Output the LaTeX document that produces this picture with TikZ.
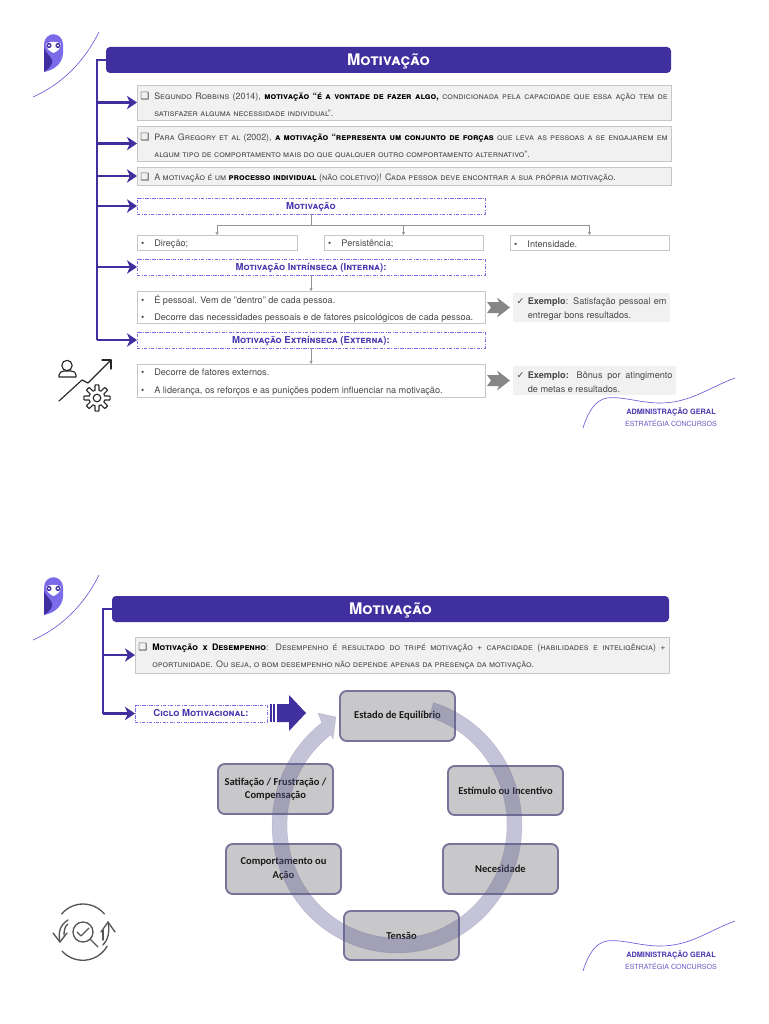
\documentclass[tikz,border=0pt]{standalone}
\usepackage{fontspec}
\setmainfont{TeX Gyre Heros}
\newfontfamily\djv{DejaVu Sans}
\newfontfamily\crl{Carlito}
\usetikzlibrary{arrows.meta}
\definecolor{deep}{HTML}{3F2F9F}
\definecolor{midp}{HTML}{4A3AB0}
\definecolor{liteP}{HTML}{7B6BE8}
\definecolor{ink}{HTML}{484848}
\definecolor{panel}{HTML}{F1F1F1}
\definecolor{edgeg}{HTML}{C6C6C6}
\definecolor{cyc}{HTML}{C8C8CA}
\definecolor{cycb}{HTML}{77749A}
\definecolor{ringc}{HTML}{5F5A90}
\definecolor{icong}{HTML}{555555}
\newcommand\ckb{\hbox to 10.5pt{{\djv\fontsize{7.5}{7.5}\selectfont ❑}\hfil}}
\newcommand\bodyl[1]{\hbox to \hsize{\hskip 3pt\hbox to 10pt{•\hfil}#1\hfil}}
\newcommand\jus[1]{\hbox to \hsize{#1}}
\newcommand\lft[1]{\hbox to \hsize{\hskip 10.5pt #1\hfil}}
\newcommand\scb[1]{{\color{black}\bfseries\scshape #1}}
\newcommand\ckm{\hbox to 8.5pt{{\djv\fontsize{7}{7}\selectfont ✓}\hfil}}
\newcommand\tv{\vskip 2.5pt}
\tikzset{
  wh/.style 2 args={minimum width=#1*0.75pt,minimum height=#2*0.75pt,inner sep=0pt,outer sep=0pt},
  titlebar/.style={fill=deep,rounded corners=3pt,text=white,text height=8pt,text depth=0pt,font=\fontsize{12}{12}\selectfont\bfseries\scshape},
  panelbox/.style={fill=panel,draw=edgeg,line width=0.65pt,text=ink,font=\fontsize{6.65}{6.65}\selectfont\scshape},
  dashbox/.style={fill=white,draw=liteP,line width=0.4pt,dash pattern=on 2.5pt off 1pt on 0.7pt off 1pt,text=midp,text height=5pt,text depth=0pt,font=\fontsize{7.2}{7.2}\selectfont\bfseries\scshape},
  itembox/.style={fill=white,draw=edgeg,line width=0.65pt,text=ink,font=\fontsize{6.85}{6.85}\selectfont},
  exbox/.style={fill=panel,text=ink,font=\fontsize{6.85}{6.85}\selectfont},
  trunk/.style={draw=deep,line width=1.9pt},
  trunkarr/.style={draw=deep,line width=1.9pt,-{Stealth[length=7.5pt,width=10pt,inset=2.2pt]}},
  treeline/.style={draw=gray!85,line width=0.45pt},
  treearr/.style={draw=gray!85,line width=0.45pt,-{Stealth[length=2.5pt,width=2.5pt]}},
  blockarr/.style={fill=gray!95},
  cycbox/.style={fill=cyc,draw=cycb,line width=1.4pt,rounded corners=5pt,text=black!90,align=center,font=\crl\fontsize{7.9}{10}\selectfont\bfseries},
  ring/.style={fill=ringc,fill opacity=0.36,draw=ringc,draw opacity=0.2,line width=0.4pt},
  owlL/.style={fill=liteP},
  owlD/.style={fill=deep},
  foot1/.style={text=midp,font=\fontsize{5.5}{5.5}\selectfont\bfseries},
  foot2/.style={text=liteP!85!black,font=\fontsize{5.3}{5.3}\selectfont},
  swoosh/.style={draw=liteP!80!deep,line width=0.5pt},
  icon/.style={draw=black!85,line width=0.85pt,line join=round,line cap=round},
  iconb/.style={draw=icong,line width=1pt,line join=round,line cap=round},
}
\begin{document}
\begin{tikzpicture}[x=0.75pt,y=-0.75pt]
\useasboundingbox (0,0) rectangle (768,1024);
% ---------- first page ----------
\begin{scope}
\fill[owlL] (44,44) .. controls (45,31) and (62,31) .. (63,44) -- (63,54) .. controls (62,64) and (54,70) .. (44,72) -- cycle;
\fill[white] (46,44) .. controls (49,41) and (58,41) .. (61,44) .. controls (61,49) and (56,52) .. (53.5,53) .. controls (51,52) and (46,49) .. (46,44) -- cycle;
\fill[owlD] (44,48) .. controls (47,54) and (50,56) .. (52,60) .. controls (53,64) and (50,68) .. (44,72) -- cycle;
\fill[deep] (49,45.5) circle (2.6) (58,45.5) circle (2.6);
\fill[white] (49,45.5) circle (1.2) (58,45.5) circle (1.2);
\draw[swoosh] (99,32) .. controls (84,62) and (62,84) .. (33,97);
\end{scope}
\node[wh={565}{26},titlebar] (bar1) at (388.5,60) {Motivação};
\node[wh={534}{35},panelbox] (p1) at (404,102.5) {\vbox{\hsize=395.5pt\baselineskip=12.75pt\tv
  \jus{\ckb Segundo Robbins (2014), \scb{motivação “é a vontade de fazer algo,} condicionada pela capacidade que essa ação tem de}
  \lft{satisfazer alguma necessidade individual”.}}};
\node[wh={534}{35},panelbox] (p2) at (404,143.5) {\vbox{\hsize=395.5pt\baselineskip=12.75pt\tv
  \jus{\ckb Para Gregory et al (2002), \scb{a motivação “representa um conjunto de forças} que leva as pessoas a se engajarem em}
  \lft{algum tipo de comportamento mais do que qualquer outro comportamento alternativo”.}}};
\node[wh={534}{18},panelbox] (p3) at (404,176) {\vbox{\hsize=395.5pt\tv
  \hbox to \hsize{\ckb A motivação é um \scb{processo individual} (não coletivo)! Cada pessoa deve encontrar a sua própria motivação.\hfil}}};
\node[wh={348}{16},dashbox] (mot) at (311,206) {Motivação};
\node[wh={160}{15},itembox] (dir) at (217,242.5) {\vbox{\hsize=120pt\tv\bodyl{Direção;}}};
\node[wh={159}{15},itembox] (per) at (403.5,242.5) {\vbox{\hsize=119pt\tv\bodyl{Persistência;}}};
\node[wh={159}{15},itembox] (int) at (589.5,242.5) {\vbox{\hsize=119pt\tv\bodyl{Intensidade.}}};
\coordinate (tc) at (311,225);
\draw[treeline] (mot.south) -- (tc);
\draw[treearr] (tc) -| (dir.north);
\draw[treearr] (tc) -| (per.north);
\draw[treearr] (tc) -| (int.north);
\node[wh={348}{16},dashbox] (intr) at (311,267) {Motivação Intrínseca (Interna):};
\node[wh={348}{32},itembox] (ib) at (311,307) {\vbox{\hsize=261pt\baselineskip=12.9pt\tv
  \bodyl{É pessoal. Vem de "dentro" de cada pessoa.}
  \bodyl{Decorre das necessidades pessoais e de fatores psicológicos de cada pessoa.}}};
\draw[treearr] (intr.south) -- (ib.north);
\node[wh={348}{16},dashbox] (ext) at (311,340) {Motivação Extrínseca (Externa):};
\node[wh={348}{33},itembox] (eb) at (311,380.5) {\vbox{\hsize=261pt\baselineskip=12.9pt\tv
  \bodyl{Decorre de fatores externos.}
  \bodyl{A liderança, os reforços e as punições podem influenciar na motivação.}}};
\draw[treearr] (ext.south) -- (eb.north);
\node[wh={157}{29},exbox] (ex1) at (591.5,307.5) {\vbox{\hsize=112.5pt\baselineskip=10.5pt\tv
  \hbox to \hsize{\ckm\textbf{Exemplo}: Satisfação pessoal em}
  \hbox to \hsize{\hskip 8.5pt entregar bons resultados.\hfil}}};
\node[wh={163}{29},exbox] (ex2) at (594.5,380.5) {\vbox{\hsize=117pt\baselineskip=10.5pt\tv
  \hbox to \hsize{\ckm\textbf{Exemplo:} Bônus por atingimento}
  \hbox to \hsize{\hskip 8.5pt de metas e resultados.\hfil}}};
\foreach \yy in {307.5,380.5}{
  \begin{scope}[shift={(487,\yy)}]
  \path[blockarr] (0,-5.5) -- (12,-5.5) -- (10,-10) -- (23,0) -- (10,10) -- (12,5.5) -- (0,5.5) -- (4,0) -- cycle;
  \end{scope}
}
\coordinate (t1) at (97,60);
\draw[trunk] (bar1.west) -- (t1) -- (t1 |- ext.west);
\foreach \tt in {p1,p2,p3,mot,intr,ext}{\draw[trunkarr] (t1 |- \tt.west) -- (\tt.west);}
% person / chart / gear icon
\draw[icon] (67,365.5) circle (5.2);
\draw[icon] (59,377) -- (59,375) .. controls (59,372) and (62,371.5) .. (64,371) -- (71,371) .. controls (74,371.5) and (76,372) .. (76,375) -- (76,377) -- cycle;
\draw[icon] (59,401) -- (82,380) -- (88,383) -- (111,360);
\draw[icon] (102,360) -- (111,360) -- (111,369);
\draw[icon] plot[domain=0:360,samples=241] ({97+(10.5+2.6*max(min(2.5*cos(8*\x),1),-1))*cos(\x)},{398+(10.5+2.6*max(min(2.5*cos(8*\x),1),-1))*sin(\x)}) -- cycle;
\draw[icon] (97,398) circle (3.8);
% footer
\draw[swoosh] (735,378) .. controls (708,388) and (690,403) .. (660,403) .. controls (640,403) and (622,396) .. (607,398) .. controls (595,400) and (588,412) .. (583,428);
\node[foot1,inner sep=0pt] (f1) at (671,412) {ADMINISTRAÇÃO GERAL};
\node[foot2,inner sep=0pt] (f2) at (671,423) {ESTRATÉGIA CONCURSOS};
% ---------- second page ----------
\begin{scope}[yshift=-543*0.75pt]
\fill[owlL] (44,44) .. controls (45,31) and (62,31) .. (63,44) -- (63,54) .. controls (62,64) and (54,70) .. (44,72) -- cycle;
\fill[white] (46,44) .. controls (49,41) and (58,41) .. (61,44) .. controls (61,49) and (56,52) .. (53.5,53) .. controls (51,52) and (46,49) .. (46,44) -- cycle;
\fill[owlD] (44,48) .. controls (47,54) and (50,56) .. (52,60) .. controls (53,64) and (50,68) .. (44,72) -- cycle;
\fill[deep] (49,45.5) circle (2.6) (58,45.5) circle (2.6);
\fill[white] (49,45.5) circle (1.2) (58,45.5) circle (1.2);
\draw[swoosh] (99,32) .. controls (84,62) and (62,84) .. (33,97);
\end{scope}
\node[wh={557}{26},titlebar] (bar2) at (390.5,609) {Motivação};
\node[wh={534}{36},panelbox] (p4) at (402,655) {\vbox{\hsize=395.5pt\baselineskip=12.75pt\tv
  \jus{\ckb\scb{Motivação x Desempenho}: Desempenho é resultado do tripé motivação + capacidade (habilidades e inteligência) +}
  \lft{oportunidade. Ou seja, o bom desempenho não depende apenas da presença da motivação.}}};
\node[wh={132}{17},dashbox] (cic) at (201,713.5) {Ciclo Motivacional:};
\coordinate (t2) at (103,609);
\draw[trunk] (bar2.west) -- (t2) -- (t2 |- cic.west);
\foreach \tt in {p4,cic}{\draw[trunkarr] (t2 |- \tt.west) -- (\tt.west);}
\draw[deep,line width=0.9pt] (271,704) -- (271,722) (274,704) -- (274,722);
\fill[deep] (277,704) -- (289,704) -- (289,695) -- (306,713) -- (289,731) -- (289,722) -- (277,722) -- cycle;
\node[wh={115}{50},cycbox] (c1) at (397.5,716) {Estado de Equilíbrio};
\node[wh={115}{49},cycbox] (c2) at (505.5,790.5) {Estímulo ou Incentivo};
\node[wh={115}{50},cycbox] (c3) at (500.5,869) {Necesidade};
\node[wh={115}{49},cycbox] (c4) at (401.5,935.5) {Tensão};
\node[wh={115}{50},cycbox] (c5) at (283.5,869) {Comportamento ou\\Ação};
\node[wh={115}{50},cycbox] (c6) at (275.5,789) {Satifação / Frustração /\\Compensação};
\path[ring] plot[domain=-73:233,samples=90] ({397+125*cos(\x)},{825+128*sin(\x)})
  -- (318,713) -- (336,717) -- (333,739)
  -- plot[domain=233:-73,samples=90] ({397+110*cos(\x)},{825+113*sin(\x)}) -- cycle;
% cycle icon
\draw[iconb] (61.6,914) arc[start angle=140,end angle=40,radius=21pt];
\draw[iconb] (62,951) arc[start angle=222,end angle=330,radius=21pt];
\draw[iconb] (83,932) circle (10);
\draw[iconb] (90,939) -- (98,947);
\draw[iconb] (77,932) -- (81,936) -- (89,928);
\draw[iconb] (53,933) -- (60,942) -- (67,933);
\draw[iconb] (60,942) .. controls (58,932) and (60,925) .. (68,920);
\draw[iconb] (64,935) .. controls (64,930) and (65,926) .. (68,924);
\draw[iconb] (101,932) -- (108,922) -- (115,932);
\draw[iconb] (108,922) .. controls (110,932) and (108,940) .. (103,945);
\draw[iconb] (103,930) -- (103,940);
% footer
\draw[swoosh] (735,921) .. controls (708,931) and (690,946) .. (660,946) .. controls (640,946) and (622,939) .. (607,941) .. controls (595,943) and (588,955) .. (583,971);
\node[foot1,inner sep=0pt] (f3) at (671,955) {ADMINISTRAÇÃO GERAL};
\node[foot2,inner sep=0pt] (f4) at (671,966) {ESTRATÉGIA CONCURSOS};
\end{tikzpicture}
\end{document}
